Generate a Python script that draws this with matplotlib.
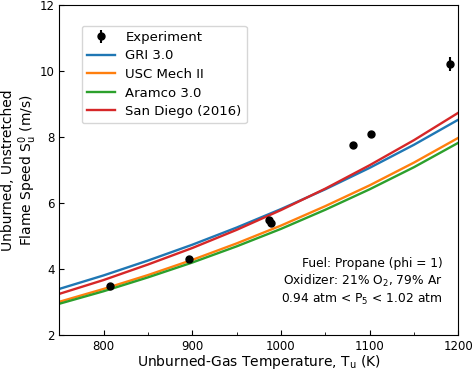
import numpy as np
import matplotlib
matplotlib.use("Agg")
import matplotlib.pyplot as plt
from matplotlib.ticker import MultipleLocator

# experiment
exp_T = [807, 896, 986, 989, 1081, 1101, 1191]
exp_S = [3.47, 4.29, 5.47, 5.38, 7.76, 8.09, 10.21]
exp_err = [0.0, 0.0, 0.0, 0.0, 0.0, 0.0, 0.22]

# model curves, read every 50 K
T_model = [750, 800, 850, 900, 950, 1000, 1050, 1100, 1150, 1200]
gri = [3.39, 3.80, 4.25, 4.73, 5.25, 5.81, 6.41, 7.06, 7.76, 8.52]
usc = [3.00, 3.39, 3.81, 4.27, 4.77, 5.31, 5.90, 6.53, 7.22, 7.97]
aramco = [2.94, 3.32, 3.74, 4.19, 4.68, 5.21, 5.79, 6.41, 7.08, 7.82]
sandiego = [3.24, 3.66, 4.13, 4.63, 5.18, 5.78, 6.43, 7.14, 7.90, 8.73]

plt.rcParams["font.size"] = 9

fig = plt.figure(figsize=(4.74, 3.72), dpi=100)
ax = fig.add_axes([0.125, 0.1, 0.842, 0.887])

h_exp = ax.errorbar(exp_T, exp_S, yerr=exp_err, fmt="o", color="black", ms=5,
                    elinewidth=1.5, capsize=0, label="Experiment", zorder=5)
h1, = ax.plot(T_model, gri, color="#1f77b4", lw=1.7, label="GRI 3.0")
h2, = ax.plot(T_model, usc, color="#ff7f0e", lw=1.7, label="USC Mech II")
h3, = ax.plot(T_model, aramco, color="#2ca02c", lw=1.7, label="Aramco 3.0")
h4, = ax.plot(T_model, sandiego, color="#d62728", lw=1.7, label="San Diego (2016)")

ax.set_xlim(750, 1200)
ax.set_ylim(2, 12)
ax.xaxis.set_major_locator(MultipleLocator(100))
ax.xaxis.set_minor_locator(MultipleLocator(50))
ax.yaxis.set_major_locator(MultipleLocator(2))
ax.tick_params(which="both", direction="in", labelsize=8.5)
ax.tick_params(axis="x", pad=4)

ax.set_xlabel("Unburned-Gas Temperature, T$_\\mathregular{u}$ (K)", fontsize=10,
              labelpad=0)
ax.set_ylabel("Unburned, Unstretched\nFlame Speed S$_\\mathregular{u}^\\mathregular{0}$ (m/s)",
              fontsize=10, labelpad=0, linespacing=1.1)

ax.legend([h_exp, h1, h2, h3, h4],
          ["Experiment", "GRI 3.0", "USC Mech II", "Aramco 3.0", "San Diego (2016)"],
          loc="upper left", bbox_to_anchor=(0.04, 0.957), fontsize=9.5,
          handlelength=2.1, borderpad=0.4, labelspacing=0.42)

ax.text(0.96, 0.235,
        "Fuel: Propane (phi = 1)\n"
        "Oxidizer: 21% O$_\\mathregular{2}$, 79% Ar\n"
        "0.94 atm < P$_\\mathregular{5}$ < 1.02 atm",
        transform=ax.transAxes, ha="right", va="top", fontsize=8.8,
        linespacing=1.25)

fig.savefig("out.png", dpi=100)
